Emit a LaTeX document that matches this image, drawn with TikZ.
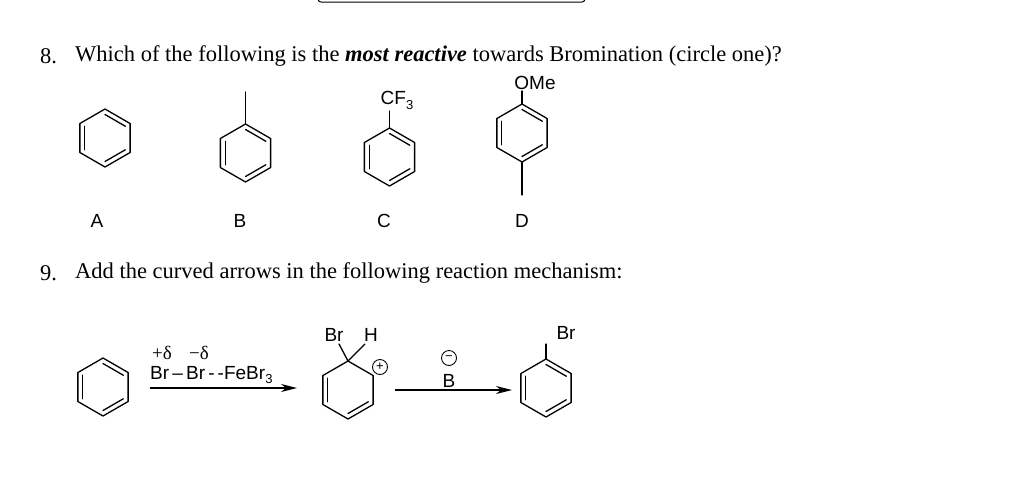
\documentclass[tikz,border=0pt]{standalone}
\usepackage{fontspec}
\setmainfont{Liberation Serif}
\setsansfont{Liberation Sans}
\usetikzlibrary{calc,arrows.meta}
\newcommand{\ring}[3]{% name, x, y
  \coordinate (#1) at (#2,#3);
  \draw[bond] ($(#1)+(270:29)$) -- ($(#1)+(330:29)$) -- ($(#1)+(30:29)$) -- ($(#1)+(90:29)$) -- ($(#1)+(150:29)$) -- ($(#1)+(210:29)$) -- cycle;}
\newcommand{\dbl}[3]{% center, a1, a2
  \draw[bond] ($(#1)+(#2:23.5)$) -- ($(#1)+(#3:23.5)$);}
\newcommand{\sbs}[1]{\raisebox{-0.25em}{\fontsize{13}{13}\selectfont #1}}
\begin{document}
\begin{tikzpicture}[x=1pt,y=-1pt,
  bond/.style={line width=1.3pt,line cap=round,line join=round},
  qtext/.style={font=\fontsize{22.5}{26}\selectfont,anchor=west,inner sep=0},
  lab/.style={font=\sffamily\fontsize{19}{22}\selectfont,inner sep=0},
  arr/.style={line width=1.3pt,-{Stealth[length=16pt,width=8pt,inset=5pt]}},
  chg/.style={draw,circle,line width=0.9pt,minimum size=15pt,inner sep=0,font=\sffamily\fontsize{13}{13}\selectfont}]
\useasboundingbox (0,0) rectangle (1024,483);
\fill[white] (0,0) rectangle (1024,483);
\draw[line width=1pt,rounded corners=3pt] (318,-10) -- (318,2) -- (585,2) -- (585,-10);
\node[qtext] (q8n) at (40,56) {8.};
\node[qtext] (q8) at (75,56) {Which of the following is the \textbf{\textit{most reactive}} towards Bromination (circle one)?};
% A
\ring{ra}{105}{138}\dbl{ra}{150}{210}\dbl{ra}{270}{330}\dbl{ra}{30}{90}
% B
\ring{rb}{245.5}{153}\dbl{rb}{150}{210}\dbl{rb}{270}{330}\dbl{rb}{30}{90}
\coordinate (bm) at (245.5,92);
\draw[bond] ($(rb)+(270:29)$) -- (bm);
% C
\ring{rc}{389.5}{157}\dbl{rc}{150}{210}\dbl{rc}{270}{330}\dbl{rc}{30}{90}
\node[lab,anchor=south] (cf3) at (397,110) {CF\sbs{3}};
\draw[bond] ($(rc)+(270:29)$) -- (389.5,111);
% D
\ring{rd}{522}{133}\dbl{rd}{150}{210}\dbl{rd}{270}{330}\dbl{rd}{30}{90}
\node[lab,anchor=south] (ome) at (535,90) {OMe};
\draw[bond] ($(rd)+(270:29)$) -- (522,91);
\draw[bond] ($(rd)+(90:29)$) -- (522,195);
\node[lab] (la) at (97,221) {A};
\node[lab] (lb) at (240,221) {B};
\node[lab] (lc) at (384,221) {C};
\node[lab] (ld) at (522,221) {D};
\node[qtext] (q9n) at (40,273) {9.};
\node[qtext] (q9) at (75,273) {Add the curved arrows in the following reaction mechanism:};
% mechanism
\ring{r1}{103}{387}\dbl{r1}{150}{210}\dbl{r1}{270}{330}\dbl{r1}{30}{90}
\coordinate (a1s) at (150,388);\coordinate (a1e) at (297,388);
\draw[arr] (a1s) -- (a1e);
\node[font=\fontsize{19}{22}\selectfont,inner sep=0] (pd) at (162,353) {+δ};
\node[font=\fontsize{19}{22}\selectfont,inner sep=0] (md) at (199,353) {−δ};
\node[lab,anchor=west] (rg) at (150,375) {Br\,–\,Br\,-\,-FeBr\sbs{3}};
% intermediate
\ring{r2}{348}{390}\dbl{r2}{150}{210}\dbl{r2}{30}{90}
\coordinate (tv) at ($(r2)+(270:29)$);
\node[lab] (br2) at (334,335) {Br};
\node[lab] (h2) at (371,335) {H};
\draw[bond] (tv) -- (339,344);
\draw[bond] (tv) -- (365,344);
\node[chg] (plus) at (380,367) {+};
\coordinate (a2s) at (395,390);\coordinate (a2e) at (512,390);
\draw[arr] (a2s) -- (a2e);
\node[chg] (minus) at (449,358) {−};
\node[lab] (bb) at (449,381) {B};
% product
\ring{r3}{546}{388}\dbl{r3}{150}{210}\dbl{r3}{270}{330}\dbl{r3}{30}{90}
\node[lab] (br3) at (566,333) {Br};
\draw[bond] ($(r3)+(270:29)$) -- (546,344);
\end{tikzpicture}
\end{document}
